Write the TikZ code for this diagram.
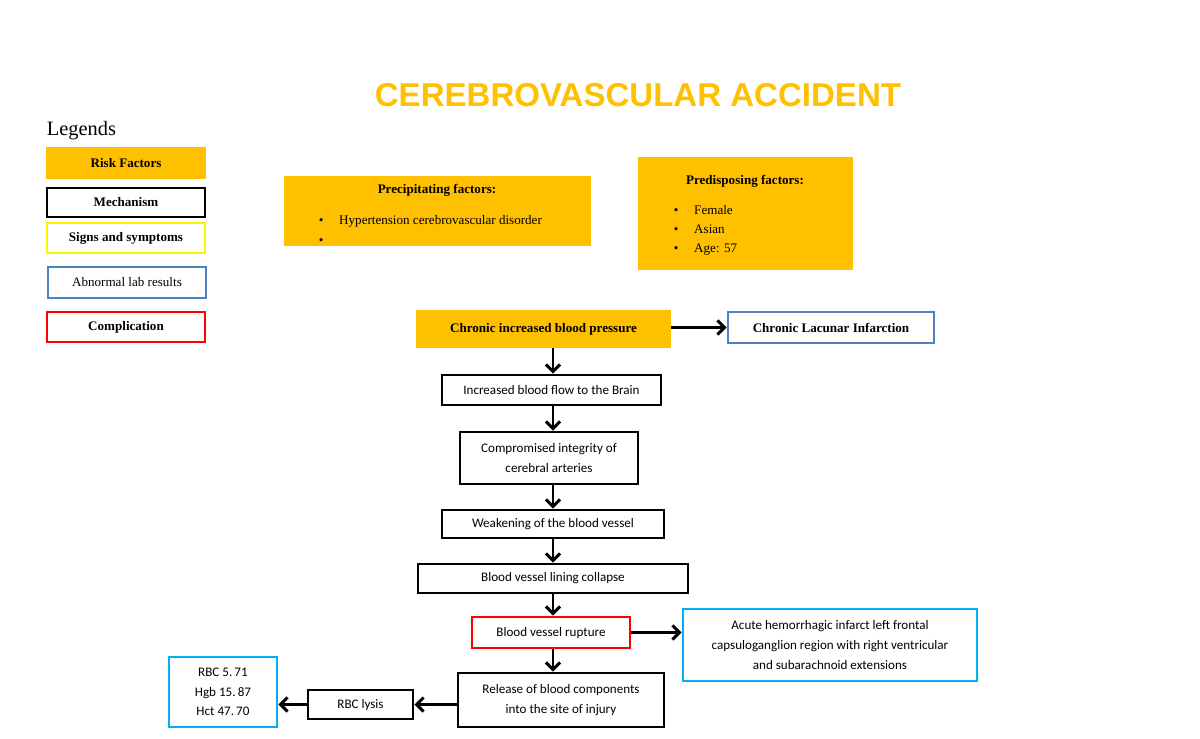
\documentclass[tikz,border=0pt]{standalone}
\usepackage{fontspec}
\setmainfont{Liberation Serif}
\newfontfamily\flowfont{Carlito}
\newfontfamily\titlefont{Liberation Sans}
\usetikzlibrary{arrows.meta, positioning}
\definecolor{riskorange}{HTML}{FFC000}
\definecolor{labblue}{HTML}{4F81BD}
\definecolor{cyanbox}{HTML}{00B0F0}
\tikzset{
    px/.style = {x=0.025cm, y=-0.025cm},
    box/.style = {draw, line width=2.1pt, inner sep=0pt, align=center},
    risk/.style = {fill=riskorange, inner sep=0pt, align=center},
    mech/.style = {box, font=\flowfont\fontsize{9.3}{14}\selectfont},
    legtext/.style = {font=\bfseries\fontsize{9.3}{11}\selectfont},
    flow/.style = {-{Straight Barb[length=5pt, width=10pt]}, line width=2.1pt}
}
\newcommand{\boxat}[6]{% name, style, x1, y1, x2, y2, then the node text
  \node[#2, minimum width={(#5-#3)*0.025cm}, minimum height={(#6-#4)*0.025cm}] (#1) at ({(#3+#5)/2},{(#4+#6)/2})}
\begin{document}
\begin{tikzpicture}[px]
\useasboundingbox (0,0) rectangle (1200,738);
% title and legend
\node[font=\titlefont\bfseries\fontsize{23.5}{26}\selectfont, text=riskorange] (title) at (638,95) {CEREBROVASCULAR ACCIDENT};
\node[anchor=west, font=\fontsize{14.5}{16}\selectfont] (legends) at (42,131) {Legends};
\boxat{legrisk}{risk, legtext}{46}{147}{206}{179} {Risk Factors};
\boxat{legmech}{box, legtext}{47}{188}{205}{217} {Mechanism};
\boxat{legsign}{box, draw=yellow, legtext}{47}{223}{205}{253} {Signs and symptoms};
\boxat{leglab}{box, draw=labblue, font=\fontsize{9.3}{11}\selectfont}{48}{267}{206}{298} {Abnormal lab results};
\boxat{legcomp}{box, draw=red, legtext}{47}{312}{205}{342} {Complication};
% risk factors
\boxat{precip}{risk}{284}{176}{591}{246} {};
\node[font=\bfseries\fontsize{9.3}{11}\selectfont] (preciptitle) at (437,190) {Precipitating factors:};
\node[anchor=west, font=\fontsize{9.3}{11}\selectfont, align=left] (preciplist) at (314,230)
  {\textbullet\hspace{1.2em}Hypertension cerebrovascular disorder\\[3pt]\textbullet};
\boxat{predisp}{risk}{638}{157}{853}{270} {};
\node[font=\bfseries\fontsize{9.3}{11}\selectfont] (predisptitle) at (745,181) {Predisposing factors:};
\node[anchor=west, font=\fontsize{9.3}{13.5}\selectfont, align=left] (predisplist) at (669,230)
  {\textbullet\hspace{1.2em}Female\\\textbullet\hspace{1.2em}Asian\\\textbullet\hspace{1.2em}Age: 57};
% mechanism chain
\boxat{chronic}{risk, legtext}{416}{310}{671}{348} {Chronic increased blood pressure};
\boxat{lacunar}{box, draw=labblue, legtext}{728}{312}{934}{343} {Chronic Lacunar Infarction};
\boxat{flowup}{mech}{442}{375}{661}{405} {Increased blood flow to the Brain};
\boxat{integrity}{mech}{460}{432}{638}{484} {Compromised integrity of\\cerebral arteries};
\boxat{weaken}{mech}{442}{510}{664}{538} {Weakening of the blood vessel};
\boxat{lining}{mech}{418}{564}{688}{593} {Blood vessel lining collapse};
\boxat{rupture}{mech, draw=red}{472}{617}{630}{648} {Blood vessel rupture};
\boxat{acute}{mech, draw=cyanbox}{683}{609}{977}{681} {Acute hemorrhagic infarct left frontal\\capsuloganglion region with right ventricular\\and subarachnoid extensions};
\boxat{release}{mech}{458}{673}{664}{727} {Release of blood components\\into the site of injury};
\boxat{lysis}{mech}{308}{690}{413}{719} {RBC lysis};
\boxat{labs}{mech, draw=cyanbox}{169}{657}{277}{727} {RBC 5.\,71\\Hgb 15.\,87\\Hct 47.\,70};
% connectors
\coordinate (spine) at (553,0);
\draw[flow] (chronic.east |- lacunar) -- (lacunar.west);
\draw[flow] (chronic.south -| spine) -- (flowup.north -| spine);
\draw[flow] (flowup.south -| spine) -- (integrity.north -| spine);
\draw[flow] (integrity.south -| spine) -- (weaken.north -| spine);
\draw[flow] (weaken.south -| spine) -- (lining.north -| spine);
\draw[flow] (lining.south -| spine) -- (rupture.north -| spine);
\draw[flow] (rupture.east) -- (acute.west |- rupture.east);
\draw[flow] (rupture.south -| spine) -- (release.north -| spine);
\draw[flow] (release.west |- lysis) -- (lysis.east);
\draw[flow] (lysis) -- (labs.east |- lysis);
\end{tikzpicture}
\end{document}
